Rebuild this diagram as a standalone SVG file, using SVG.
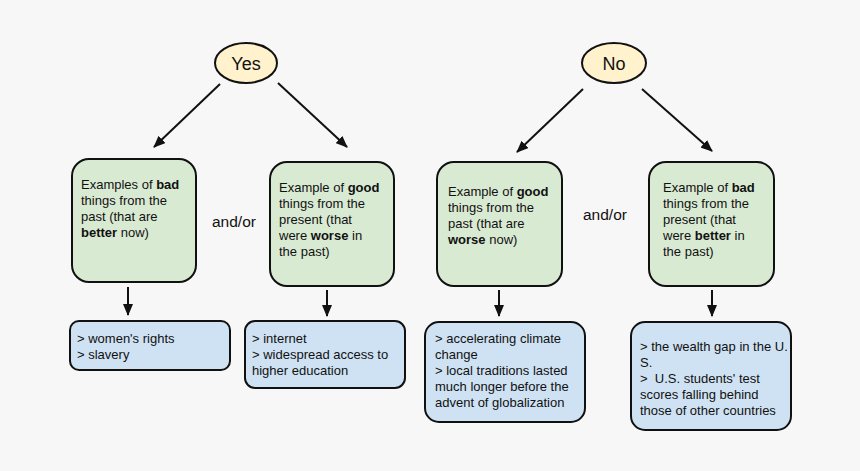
<svg xmlns="http://www.w3.org/2000/svg" width="860" height="471" viewBox="0 0 860 471">
<style>
text{font-family:"Liberation Sans",Arial,sans-serif;fill:#111}
.t{font-size:13px}
.b{font-weight:bold}
.pre{white-space:pre}
.oval{fill:#fff2cc;stroke:#111;stroke-width:2}
.g{fill:#d9ead3;stroke:#111;stroke-width:2}
.bl{fill:#cfe2f3;stroke:#111;stroke-width:2}
.c line{stroke:#111;stroke-width:2}
.lab{font-size:18px}
.ao{font-size:15.5px}
</style>
<defs>
<marker id="ah" viewBox="0 0 12 10" refX="11" refY="5" markerWidth="6" markerHeight="5" orient="auto" markerUnits="strokeWidth">
<path d="M0,0 L12,5 L0,10 z" fill="#111"/>
</marker>
</defs>
<rect width="860" height="471" fill="#f7f7f7"/>
<g class="c" id="connectors">
<line x1="220" y1="84" x2="154" y2="147" marker-end="url(#ah)"/>
<line x1="278" y1="83" x2="347" y2="147" marker-end="url(#ah)"/>
<line x1="583" y1="89" x2="517" y2="152" marker-end="url(#ah)"/>
<line x1="642" y1="89" x2="712" y2="151" marker-end="url(#ah)"/>
<line x1="128" y1="287" x2="128" y2="315" marker-end="url(#ah)"/>
<line x1="327" y1="290" x2="327" y2="316" marker-end="url(#ah)"/>
<line x1="499" y1="290" x2="499" y2="316" marker-end="url(#ah)"/>
<line x1="712" y1="290" x2="712" y2="316" marker-end="url(#ah)"/>
</g>
<g id="yes">
<ellipse class="oval" cx="246" cy="63" rx="31" ry="20"/>
<text class="lab" x="246" y="69.5" text-anchor="middle">Yes</text>
</g>
<g id="no">
<ellipse class="oval" cx="614" cy="63" rx="32" ry="20"/>
<text class="lab" x="614" y="69.5" text-anchor="middle">No</text>
</g>
<g id="andor1"><text class="ao" x="212" y="227">and/or</text></g>
<g id="andor2"><text class="ao" x="583" y="220">and/or</text></g>
<g id="g1">
<rect class="g" x="72" y="159" width="124" height="123" rx="17"/>
<text class="t"><tspan x="81" y="189">Examples of <tspan class="b">bad</tspan></tspan><tspan x="81" y="205">things from the</tspan><tspan x="81" y="221">past (that are</tspan><tspan x="81" y="237"><tspan class="b">better</tspan> now)</tspan></text>
</g>
<g id="g2">
<rect class="g" x="270" y="162" width="124" height="124" rx="17"/>
<text class="t"><tspan x="279" y="192">Example of <tspan class="b">good</tspan></tspan><tspan x="279" y="208">things from the</tspan><tspan x="279" y="224">present (that</tspan><tspan x="279" y="240">were <tspan class="b">worse</tspan> in</tspan><tspan x="279" y="256">the past)</tspan></text>
</g>
<g id="g3">
<rect class="g" x="437" y="162" width="125" height="124" rx="17"/>
<text class="t"><tspan x="448" y="196">Example of <tspan class="b">good</tspan></tspan><tspan x="448" y="212">things from the</tspan><tspan x="448" y="228">past (that are</tspan><tspan x="448" y="244"><tspan class="b">worse</tspan> now)</tspan></text>
</g>
<g id="g4">
<rect class="g" x="649" y="162" width="125" height="124" rx="17"/>
<text class="t"><tspan x="663" y="192">Example of <tspan class="b">bad</tspan></tspan><tspan x="663" y="208">things from the</tspan><tspan x="663" y="224">present (that</tspan><tspan x="663" y="240">were <tspan class="b">better</tspan> in</tspan><tspan x="663" y="256">the past)</tspan></text>
</g>
<g id="b1">
<rect class="bl" x="70" y="321" width="160" height="49" rx="9"/>
<text class="t"><tspan x="77" y="343">&gt; women's rights</tspan><tspan x="77" y="359">&gt; slavery</tspan></text>
</g>
<g id="b2">
<rect class="bl" x="245" y="321" width="160" height="67" rx="10"/>
<text class="t"><tspan x="252" y="343">&gt; internet</tspan><tspan x="252" y="359">&gt; widespread access to</tspan><tspan x="252" y="375">higher education</tspan></text>
</g>
<g id="b3">
<rect class="bl" x="425" y="322" width="160" height="100" rx="14"/>
<text class="t"><tspan x="435" y="343">&gt; accelerating climate</tspan><tspan x="435" y="359">change</tspan><tspan x="435" y="375">&gt; local traditions lasted</tspan><tspan x="435" y="391">much longer before the</tspan><tspan x="435" y="407">advent of globalization</tspan></text>
</g>
<g id="b4">
<rect class="bl" x="631" y="322" width="160" height="108" rx="14"/>
<text class="t"><tspan x="640" y="351">&gt; the wealth gap in the U.</tspan><tspan x="640" y="367">S.</tspan><tspan class="pre" x="640" y="383">&gt;  U.S. students' test</tspan><tspan x="640" y="399">scores falling behind</tspan><tspan x="640" y="415">those of other countries</tspan></text>
</g>
</svg>
